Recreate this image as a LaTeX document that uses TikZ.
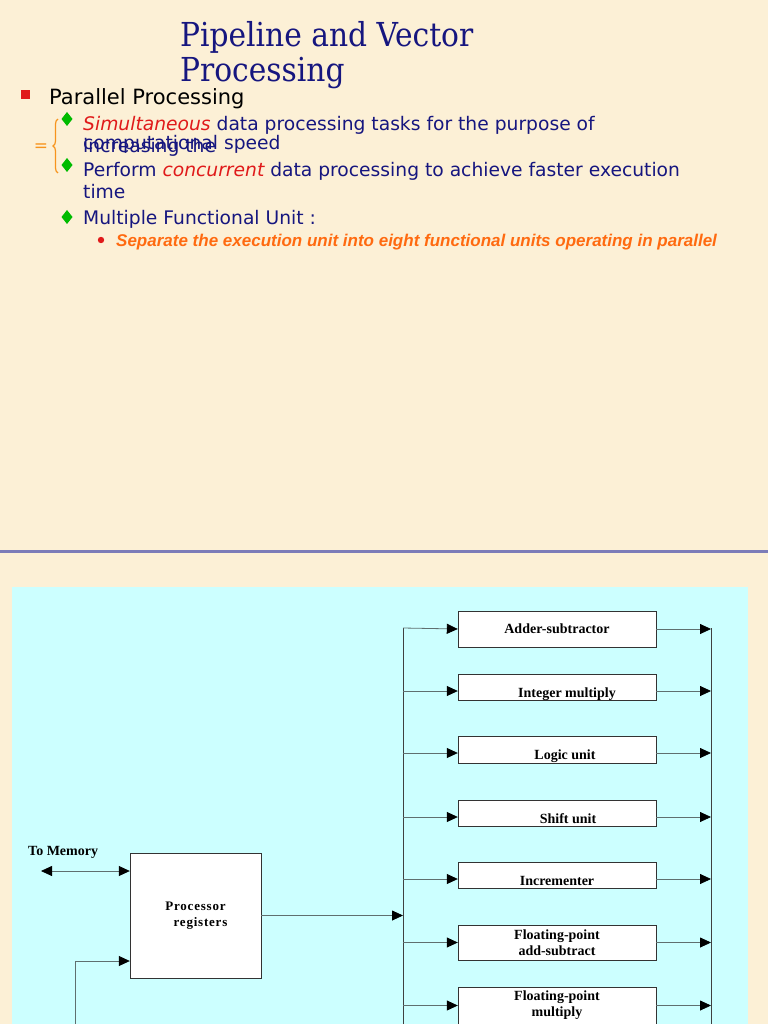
\documentclass[tikz,border=0pt]{standalone}
\usepackage{fontspec}
\setmainfont{DejaVu Sans}
\newfontfamily\titlefont{DejaVu Serif Condensed}
\newfontfamily\boxfont{Liberation Serif}
\newfontfamily\notefont{Liberation Sans}
\usetikzlibrary{arrows.meta,positioning,decorations.pathreplacing}

\definecolor{paper}{HTML}{FCF0D6}
\definecolor{navy}{HTML}{16167F}
\definecolor{slidered}{HTML}{E01A1A}
\definecolor{bulletgreen}{HTML}{00BB00}
\definecolor{slideorange}{HTML}{FF6A10}
\definecolor{bracecol}{HTML}{F7941D}
\definecolor{rulecol}{HTML}{7C7CB8}
\definecolor{panel}{HTML}{CCFFFF}
\definecolor{wire}{HTML}{5F6F6F}

\tikzset{
  unit/.style={draw=black!80, fill=white, minimum width=198pt, inner sep=0pt,
    font=\boxfont\bfseries\fontsize{14}{16}\selectfont, align=center},
  lowtext/.style={text height=20pt, text depth=0pt},
  tip/.style={-{Triangle[length=11pt,width=10pt,color=black]}},
  wireline/.style={draw=wire, line width=0.8pt},
  bus/.style={draw=black!75, line width=1pt},
  bodytext/.style={anchor=base west, inner sep=0pt, font=\fontsize{18.7}{22}\selectfont, text=navy},
  gem/.style={fill=bulletgreen}
}

\begin{document}
\begin{tikzpicture}[x=1pt, y=-1pt]
    \useasboundingbox (0,0) rectangle (768,1024);
    \fill[paper] (0,0) rectangle (768,1024);

    % Title
    \node[anchor=north west, inner sep=0pt, align=left, text=navy,
      font=\titlefont\fontsize{33}{35}\selectfont] (title) at (180,21)
      {Pipeline and Vector\\Processing};

    % Main bullet
    \fill[slidered] (21,90) rectangle (30,99);
    \node[anchor=base west, inner sep=0pt, font=\fontsize{21}{24}\selectfont] (par) at (49,105) {Parallel Processing};

    % Sub bullets
    \fill[gem] (67,112) -- (72.5,119) -- (67,126) -- (61.5,119) -- cycle;
    \node[bodytext] (simul) at (83,131) {\textcolor{slidered}{\itshape Simultaneous} data processing tasks for the purpose of};
    \node[bodytext] (comp) at (83,150) {computational speed};
    \node[bodytext] (incr) at (83,153) {increasing the};
    \fill[gem] (67,158) -- (72.5,165) -- (67,172) -- (61.5,165) -- cycle;
    \node[bodytext] (perf) at (83,177) {Perform \textcolor{slidered}{\itshape concurrent} data processing to achieve faster execution};
    \node[bodytext] (time) at (83,199) {time};
    \fill[gem] (67,210) -- (72.5,217) -- (67,224) -- (61.5,217) -- cycle;
    \node[bodytext] (multi) at (83,225) {Multiple Functional Unit :};

    % Brace
    \draw[bracecol, line width=1.2pt, decorate, decoration={brace, amplitude=5pt}] (58,173) -- (58,119);
    \node[text=bracecol, inner sep=0pt, font=\fontsize{17}{20}\selectfont] (eq) at (41,148) {=};

    % Sub-sub bullet
    \fill[slidered] (101,240) circle (3.2);
    \node[anchor=base west, inner sep=0pt, text=slideorange,
      font=\notefont\bfseries\itshape\fontsize{17}{20}\selectfont] (sep) at (116,247)
      {Separate the execution unit into eight functional units operating in parallel};

    % Rule
    \draw[rulecol, line width=3pt] (0,551) -- (768,551);

    % Panel
    \fill[panel] (12,587) rectangle (748,1024);

    % Functional units
    \node[unit, minimum height=36pt] (adder) at (557,629) {Adder-subtractor};
    \node[unit, lowtext, minimum height=26pt] (intmul) at (557,687) {\hspace{20pt}Integer multiply};
    \node[unit, lowtext, minimum height=27pt] (logic) at (557,749.5) {\hspace{16pt}Logic unit};
    \node[unit, lowtext, minimum height=26pt] (shift) at (557,813) {\hspace{22pt}Shift unit};
    \node[unit, lowtext, minimum height=26pt] (inc) at (557,875) {Incrementer};
    \node[unit, minimum height=35pt] (fpadd) at (557,942.5) {Floating-point\\add-subtract};
    \node[unit, minimum height=37pt] (fpmul) at (557,1005.5) {Floating-point\\multiply};

    % Buses
    \coordinate (lbus) at (403,628);
    \coordinate (rbus) at (711,628);
    \path[bus] (lbus) -- (403,1024);
    \path[bus] (rbus) -- (711,1024);

    % Into the units
    \draw[wireline, tip] (lbus) -- (adder.west);
    \draw[wireline, tip] (403,691) -- (intmul.west |- 0,691);
    \draw[wireline, tip] (403,753) -- (logic.west |- 0,753);
    \draw[wireline, tip] (403,817) -- (shift.west |- 0,817);
    \draw[wireline, tip] (403,879) -- (inc.west |- 0,879);
    \draw[wireline, tip] (fpadd.west -| lbus) -- (fpadd.west);
    \draw[wireline, tip] (fpmul.west -| lbus) -- (fpmul.west);

    % Out of the units
    \draw[wireline, tip] (adder.east) -- (adder.east -| rbus);
    \draw[wireline, tip] (intmul.east |- 0,691) -- (711,691);
    \draw[wireline, tip] (logic.east |- 0,753) -- (711,753);
    \draw[wireline, tip] (shift.east |- 0,817) -- (711,817);
    \draw[wireline, tip] (inc.east |- 0,879) -- (711,879);
    \draw[wireline, tip] (fpadd.east) -- (fpadd.east -| rbus);
    \draw[wireline, tip] (fpmul.east) -- (fpmul.east -| rbus);

    % Processor registers
    \node[draw=black!80, fill=white, minimum width=131pt, minimum height=125pt, inner sep=0pt,
      font=\boxfont\bfseries\fontsize{13}{16}\selectfont, align=center] (proc) at (195.5,915.5)
      {\addfontfeatures{LetterSpace=6}Processor\\\hspace{10pt}\addfontfeatures{LetterSpace=6}registers};
    \node[anchor=west, inner sep=0pt, font=\boxfont\bfseries\fontsize{14}{16}\selectfont] (tomem) at (28,852) {To Memory};
    \coordinate (mem) at (41,871);
    \draw[wireline, {Triangle[length=11pt,width=10pt,color=black]}-{Triangle[length=11pt,width=10pt,color=black]}] (mem) -- (mem -| proc.west);
    \draw[wireline, tip] (proc.east) -- (proc.east -| lbus);
    \coordinate (fb) at (75,1024);
    \draw[wireline, tip] (fb) -- (75,961) -- (proc.west |- 0,961);
\end{tikzpicture}
\end{document}
